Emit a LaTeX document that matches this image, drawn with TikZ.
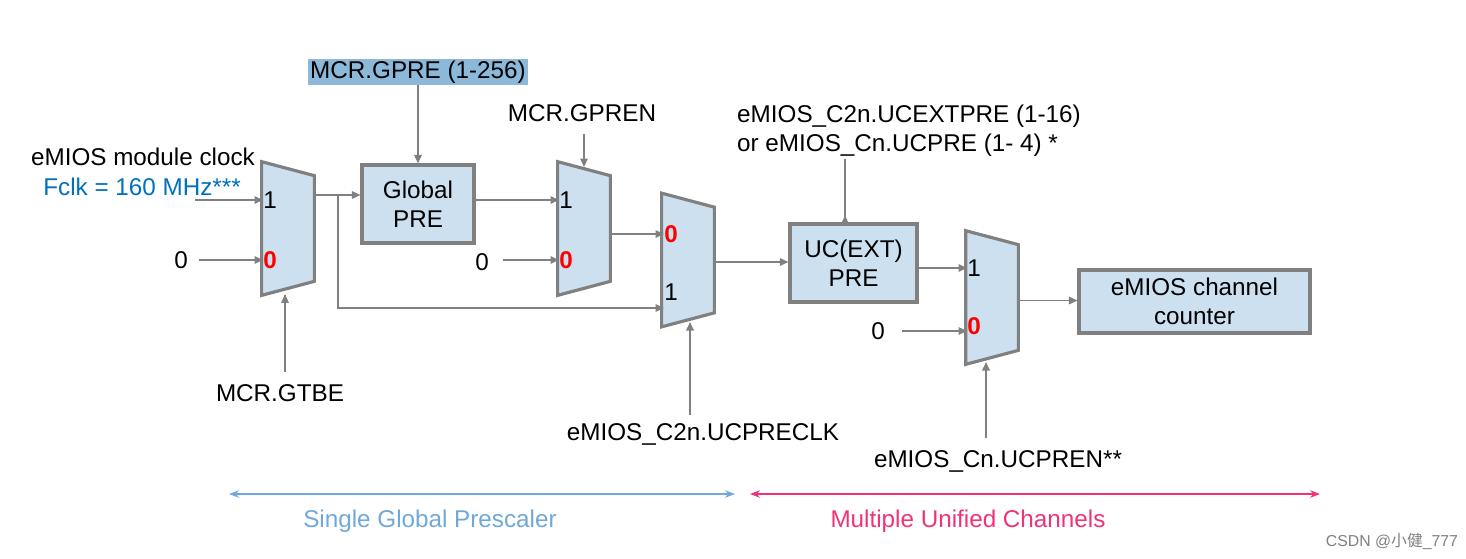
\documentclass[tikz,border=0pt]{standalone}
\usepackage{fontspec}
\setmainfont{Liberation Sans}
\newfontfamily\cjk{Noto Sans CJK SC}
\usetikzlibrary{arrows.meta}
\definecolor{boxfill}{RGB}{204,224,240}
\definecolor{linegray}{RGB}{128,128,128}
\definecolor{clkblue}{RGB}{0,112,192}
\definecolor{spanblue}{RGB}{112,168,216}
\definecolor{spanpink}{RGB}{240,50,120}
\definecolor{hilite}{RGB}{140,185,218}
\newcommand{\muxshape}[1]{%
  \draw[muxline] (#1.north west) -- ([yshift=-0.28cm]#1.north east)
    -- ([yshift=0.28cm]#1.south east) -- (#1.south west) -- cycle;}
\begin{document}
\begin{tikzpicture}[x=0.02cm,y=-0.02cm,
    every node/.style={font=\fontsize{13.8}{16.5}\selectfont},
    wire/.style={linegray,line width=0.9pt,-{Triangle[length=0.17cm,width=0.15cm]}},
    block/.style={draw=linegray,line width=1.8pt,fill=boxfill,align=center,inner sep=0pt},
    muxline/.style={draw=linegray,line width=1.8pt,fill=boxfill},
    mux/.style={inner sep=0pt,minimum width=1.04cm,minimum height=2.66cm},
    port/.style={inner sep=0pt,anchor=west},
    zero/.style={port,text=red,font=\fontsize{13.8}{16.5}\selectfont\bfseries},
    span/.style={line width=0.8pt,{Stealth[length=0.2cm]}-{Stealth[length=0.2cm]}}]
\useasboundingbox (0,0) rectangle (1466,558);
% multiplexers
\node[mux] (m1) at (288,228.5) {};
\node[mux] (m2) at (584,228.5) {};
\node[mux] (m3) at (688,260) {};
\node[mux] (m4) at (992,297.5) {};
\foreach \m in {m1,m2,m3,m4} {\muxshape{\m}}
% prescaler blocks
\node[block,minimum width=2.24cm,minimum height=1.56cm] (gpre) at (418,204) {Global\\PRE};
\node[block,minimum width=2.54cm,minimum height=1.56cm] (ucpre) at (853.5,263) {UC(EXT)\\PRE};
\node[block,minimum width=4.62cm,minimum height=1.26cm] (cnt) at (1194.5,301.5) {eMIOS channel\\counter};
% port labels
\node[port] (m1a) at (263,200) {1};
\node[zero] (m1b) at (263,260) {0};
\node[port] (m2a) at (559,200) {1};
\node[zero] (m2b) at (559,260) {0};
\node[zero] (m3a) at (664,234) {0};
\node[port] (m3b) at (664,292) {1};
\node[port] (m4a) at (967,268) {1};
\node[zero] (m4b) at (967,326) {0};
% inputs and controls
\node[anchor=east] (clk) at (261,157) {eMIOS module clock};
\node[anchor=east,text=clkblue] (fclk) at (247,187) {Fclk = 160 MHz***};
\node (z1) at (181,260) {0};
\node (z2) at (482,262) {0};
\node (z4) at (878,331) {0};
\node (gtbe) at (280,393) {MCR.GTBE};
\node[fill=hilite,inner sep=1pt] (gprv) at (418,72) {MCR.GPRE (1-256)};
\node (gpren) at (582,113) {MCR.GPREN};
\node (preclk) at (703,434) {eMIOS\_C2n.UCPRECLK};
\node[align=left,anchor=west] (ucext) at (731,131) {eMIOS\_C2n.UCEXTPRE (1-16)\\or eMIOS\_Cn.UCPRE (1- 4) *};
\node (pren) at (998,461) {eMIOS\_Cn.UCPREN**};
\coordinate (split) at (338,195);
% connectors
\draw[wire] (195,200) -- (m1a.west);
\draw[wire] (z1.east) ++(5,0) -- (m1b.west);
\draw[wire] (gtbe.north -| 285,0) ++(0,-6) -- (m1.south -| 285,0) ++(0,-1);
\draw[linegray,line width=0.9pt] (m1.east |- split) -- (split);
\draw[wire] (split) -- (gpre.west |- split);
\draw[wire] (split) |- (m3b.west |- 0,308);
\draw[wire] (gprv.south) -- (gpre.north);
\draw[wire] (gpre.east |- m2a) -- (m2a.west);
\draw[wire] (z2.east) ++(8,-2) -- (m2b.west);
\draw[wire] (gpren.south -| 584,0) ++(0,6) -- (584,167);
\draw[wire] (m2.east |- m3a) -- (m3a.west);
\draw[wire] (preclk.north -| 690,0) ++(0,-2) -- (690,322);
\draw[wire] (m3.east |- 0,262) -- (ucpre.west |- 0,262);
\draw[wire] (ucext.south -| 845,0) ++(0,-4) -- (ucpre.north -| 845,0) ++(0,-7);
\draw[wire] (ucpre.east |- m4a) -- (m4a.west);
\draw[wire] (z4.east) ++(11,0) -- (m4b.west |- z4);
\draw[wire] (pren.north -| 986,0) ++(0,-6) -- (986,362);
\draw[wire] (m4.east |- cnt.west) ++(0,-1) -- ([yshift=0.02cm]cnt.west);
% spans
\coordinate (s1) at (229,494);
\coordinate (s2) at (735,494);
\coordinate (s3) at (750,494);
\coordinate (s4) at (1320,494);
\draw[span,spanblue] (s1) -- (s2);
\draw[span,spanpink] (s3) -- (s4);
\node[text=spanblue] (sgp) at (430,521) {Single Global Prescaler};
\node[text=spanpink] (muc) at (968,521) {Multiple Unified Channels};
\node[text=gray,font=\fontsize{9}{11}\selectfont] (mark) at (1392,541) {CSDN @{\cjk 小健}\_777};
\end{tikzpicture}
\end{document}
